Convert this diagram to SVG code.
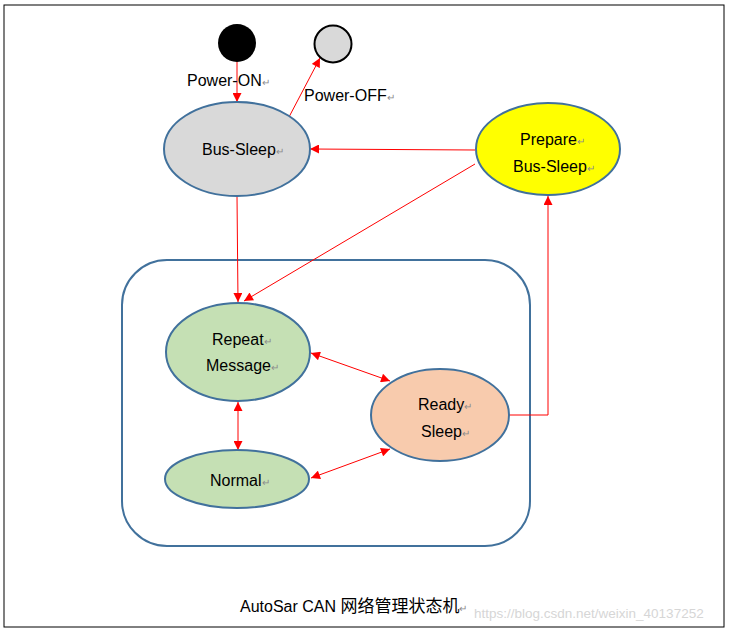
<svg xmlns="http://www.w3.org/2000/svg" width="730" height="634" viewBox="0 0 730 634">
<style>
.st{stroke:#41719c;stroke-width:2}
.t{font-family:"Liberation Sans",Arial,sans-serif;font-size:16px;fill:#000}
.pm{font-size:10px;fill:#8c8c8c}
.c{stroke:#ff0000;stroke-width:1;fill:none}
</style>
<defs>
<marker id="a" viewBox="0 0 10 10" refX="10" refY="5" markerWidth="10" markerHeight="9" markerUnits="userSpaceOnUse" orient="auto-start-reverse">
<path d="M0,0 L10,5 L0,10 Z" fill="#ff0000"/>
</marker>
</defs>
<rect x="4" y="5" width="720" height="622" fill="#fff" stroke="#000" stroke-width="1"/>
<rect x="122" y="260" width="408" height="286" rx="45" ry="45" fill="none" stroke="#41719c" stroke-width="2"/>
<g id="connectors">
<line class="c" x1="237" y1="62" x2="237" y2="102" marker-end="url(#a)"/>
<line class="c" x1="289" y1="117" x2="320" y2="58" marker-end="url(#a)"/>
<line class="c" x1="475" y1="150" x2="310" y2="149" marker-end="url(#a)"/>
<line class="c" x1="475" y1="164" x2="244" y2="301" marker-end="url(#a)"/>
<line class="c" x1="237" y1="196" x2="238" y2="302" marker-end="url(#a)"/>
<line class="c" x1="311" y1="353" x2="390" y2="381" marker-start="url(#a)" marker-end="url(#a)"/>
<line class="c" x1="238" y1="402" x2="238" y2="450" marker-start="url(#a)" marker-end="url(#a)"/>
<line class="c" x1="311" y1="478" x2="390" y2="449" marker-start="url(#a)" marker-end="url(#a)"/>
<polyline class="c" points="509,415 548,415 548,196" marker-end="url(#a)"/>
</g>
<g id="start"><circle cx="237" cy="43" r="19" fill="#000"/></g>
<g id="end"><circle cx="333" cy="44" r="18.5" fill="#d9d9d9" stroke="#000" stroke-width="2"/></g>
<g id="power-on-label"><text class="t" x="187" y="86">Power-ON<tspan class="pm">↵</tspan></text></g>
<g id="power-off-label"><text class="t" x="304" y="101">Power-OFF<tspan class="pm">↵</tspan></text></g>
<g id="bus-sleep">
<ellipse class="st" cx="237" cy="149" rx="73" ry="47" fill="#d9d9d9"/>
<text class="t" x="202" y="155">Bus-Sleep<tspan class="pm">↵</tspan></text>
</g>
<g id="prepare-bus-sleep">
<ellipse class="st" cx="548" cy="149" rx="72" ry="46" fill="#ffff00"/>
<text class="t" x="520" y="145">Prepare<tspan class="pm">↵</tspan></text>
<text class="t" x="513" y="172">Bus-Sleep<tspan class="pm">↵</tspan></text>
</g>
<g id="repeat-message">
<ellipse class="st" cx="238" cy="352" rx="72" ry="49" fill="#c5e0b4"/>
<text class="t" x="212" y="345">Repeat<tspan class="pm">↵</tspan></text>
<text class="t" x="206" y="371">Message<tspan class="pm">↵</tspan></text>
</g>
<g id="normal">
<ellipse class="st" cx="237" cy="479" rx="72" ry="29" fill="#c5e0b4"/>
<text class="t" x="210" y="486">Normal<tspan class="pm">↵</tspan></text>
</g>
<g id="ready-sleep">
<ellipse class="st" cx="440" cy="415" rx="69" ry="46" fill="#f8cbad"/>
<text class="t" x="418" y="410">Ready<tspan class="pm">↵</tspan></text>
<text class="t" x="421" y="437">Sleep<tspan class="pm">↵</tspan></text>
</g>
<g id="caption">
<text x="240" y="612" style="font-family:'Liberation Sans','Noto Sans CJK SC',sans-serif;font-size:16px">AutoSar CAN <tspan style="font-size:17px">网络管理状态机</tspan><tspan class="pm">↵</tspan></text>
</g>
<text x="474" y="618" style="font-family:'Liberation Sans',Arial,sans-serif;font-size:13.5px;fill:#d6d6d6">https://blog.csdn.net/weixin_40137252</text>
</svg>
